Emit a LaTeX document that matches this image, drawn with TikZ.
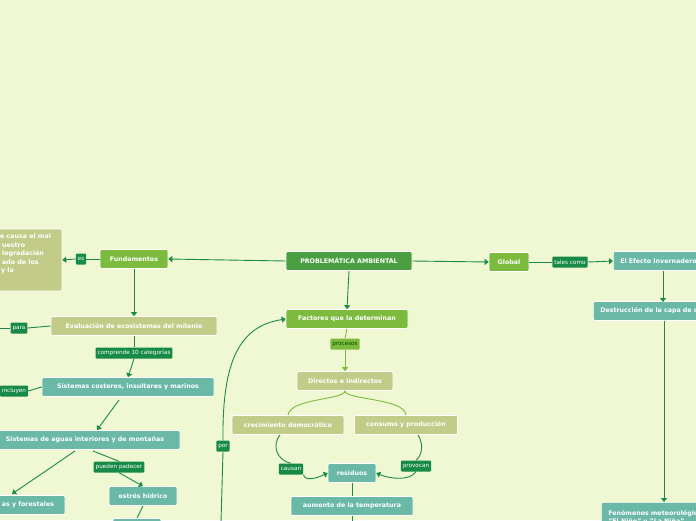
\documentclass[tikz,border=0pt]{standalone}
\usepackage{fontspec}
\setmainfont{DejaVu Sans}
\usetikzlibrary{arrows.meta}
\definecolor{bg}{HTML}{EFF8D2}
\definecolor{ln}{HTML}{1E8A4A}
\definecolor{lg}{HTML}{7CBB3E}
\definecolor{dg}{HTML}{4AA040}
\definecolor{ol}{HTML}{C2CC88}
\definecolor{tl}{HTML}{6AB8A6}
\definecolor{lb}{HTML}{178A47}
\begin{document}
\begin{tikzpicture}[x=1pt,y=-1pt,
 box/.style={rounded corners=2pt,draw=white,line width=0.6pt,text=white,font=\fontsize{6.3}{7}\selectfont\bfseries,minimum height=19pt,inner xsep=5pt},
 lab/.style={rounded corners=1pt,fill=lb,text=white,font=\fontsize{5.7}{6}\selectfont,inner sep=2pt,minimum height=11pt},
 con/.style={draw=ln,line width=0.9pt},
 arr/.style={con,-{Triangle[width=6pt,length=4pt]}}]
\clip (0,0) rectangle (696,520);
\fill[bg] (0,0) rectangle (696,520);
% nodes
\node[box,fill=dg,minimum width=126pt] (pa) at (349,261) {PROBLEMÁTICA AMBIENTAL};
\node[box,fill=lg,minimum width=68pt] (fu) at (134,259) {Fundamentos};
\node[box,fill=ol,minimum width=160pt,minimum height=62pt] (lb1) at (-18,260) {};
\node[anchor=north west,text=white,font=\fontsize{6.3}{8.5}\selectfont\bfseries,align=left,inner sep=0pt] (lbt) at (0,234) {e causa el mal\\ \hspace*{2pt}uestro\\ \hspace*{2pt}legradación\\ \hspace*{2pt}ado de los\\ \hspace*{1pt}y la};
\node[lab] (es) at (81,259) {es};
\node[box,fill=ol,minimum width=166pt] (ev) at (134,326) {Evaluación de ecosistemas del milenio};
\node[lab] (para) at (19,328) {para};
\node[lab] (comp) at (134,353) {comprende 10 categorías};
\node[box,fill=tl,minimum width=172pt] (sc) at (128,387) {Sistemas costeros, insultares y marinos};
\node[lab] (inc) at (14,391) {incluyen};
\node[box,fill=tl,minimum width=190pt] (sa) at (85,440) {Sistemas de aguas interiores y de montañas};
\node[lab] (pp) at (119,467) {pueden padecer};
\node[box,fill=tl,minimum width=68pt] (eh) at (143,496) {estrés hídrico};
\node[box,fill=tl,minimum width=104pt] (sf) at (13,505) {\hspace*{30pt}as y forestales};
\node[box,fill=tl,minimum width=48pt] (bb) at (137,528) {};
\node[lab] (por) at (223,446) {por};
\node[box,fill=lg,minimum width=122pt] (fa) at (347,319) {Factores que la determinan};
\node[lab,fill=lg,text=black!70!green] (proc) at (345,344) {procesos};
\node[box,fill=ol,minimum width=96pt] (di) at (345,381) {Directos e indirectos};
\node[box,fill=ol,minimum width=112pt] (cd) at (288,425) {crecimiento democrático};
\node[box,fill=ol,minimum width=103pt] (cp) at (406,425) {consumo y producción};
\node[lab] (cau) at (291,469) {causan};
\node[lab] (prov) at (416,466) {provocan};
\node[box,fill=tl,minimum width=48pt] (re) at (352,473) {residuos};
\node[box,fill=tl,minimum width=122pt] (at) at (352,506) {aumento de la temperatura};
\node[box,fill=lg,minimum width=40pt] (gl) at (509,262) {Global};
\node[lab] (tc) at (570,262) {tales como};
\node[box,fill=tl,text width=120pt,anchor=west,align=left,inner xsep=7pt] (ei) at (613,261) {El Efecto Invernadero};
\node[box,fill=tl,text width=140pt,anchor=west,align=left,inner xsep=7pt] (dc) at (593,311) {Destrucción de la capa de ozono};
\node[box,fill=tl,minimum height=30pt,anchor=north west,align=left,text width=120pt,inner xsep=7pt,font=\fontsize{6.3}{8}\selectfont\bfseries] (fm) at (601,502) {Fenómenos meteorológicos\\ "El Niño" y "La Niña"};
\coordinate (pb) at (221,522);
\coordinate (ab) at (352,522);
\coordinate (pl) at (-2,328);
\coordinate (il) at (-2,391);
% connectors
\draw[arr] (pa.west) -- (fu.east);
\draw[con] (fu.west) -- (es.east);
\draw[arr] (es.west) -- (lb1.east);
\draw[arr] (pa.east) -- (gl.west);
\draw[con] (gl.east) -- (tc.west);
\draw[arr] (tc.east) -- (ei.west);
\draw[arr] (663,271) -- (663,302);
\draw[arr] (664,321) -- (664,502);
\draw[arr] (pa.south) -- (fa.north);
\draw[con,draw=lg] (fa.south) -- (proc.north);
\draw[lg,line width=0.9pt,-{Triangle[width=6pt,length=4pt]}] (proc.south) -- (di.north);
\draw[con,draw=lg] (di.south) .. controls (345,400) and (290,398) .. (cd.north);
\draw[con,draw=lg] (di.south) .. controls (345,400) and (405,398) .. (cp.north);
\draw[con] (cd.south) ++(-8,0) .. controls (272,445) and (276,460) .. (cau.north);
\draw[arr] (cau.south east) .. controls (305,481) and (315,479) .. (re.west);
\draw[con] (cp.south) ++(12,0) .. controls (424,445) and (422,455) .. (prov.north);
\draw[arr] (prov.south) .. controls (410,481) and (390,479) .. (re.east);
\draw[con] (re.south) -- (at.north);
\draw[con] (at.south) -- (ab);
\draw[arr] (fu.south) -- (ev.north);
\draw[con] (ev.west) -- (para.east);
\draw[con] (para.west) -- (pl);
\draw[con] (ev.south) -- (comp.north);
\draw[arr] (comp.south) -- (sc.north);
\draw[con] (sc.west) -- (inc.east);
\draw[con] (inc.west) -- (il);
\draw[arr] (119,400) -- (97,430);
\draw[arr] (75,451) -- (12,494);
\draw[con] (93,451) -- (pp.north);
\draw[arr] (pp.south) -- (eh.north);
\draw[con] (eh.south) -- (bb.north);
\draw[con] (pb) -- (por.south);
\draw[arr] (por.north) .. controls (222,360) and (240,326) .. (fa.west);
\end{tikzpicture}
\end{document}
